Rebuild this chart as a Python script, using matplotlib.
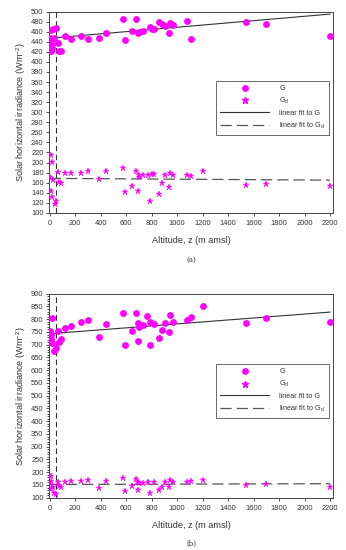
import numpy as np
import matplotlib
matplotlib.use("Agg")
import matplotlib.pyplot as plt
from matplotlib.lines import Line2D
from matplotlib.ticker import MultipleLocator

plt.rcParams['font.family'] = ['Liberation Sans', 'DejaVu Sans']
plt.rcParams['mathtext.fontset'] = 'custom'
plt.rcParams['mathtext.rm'] = 'Liberation Sans'
plt.rcParams['mathtext.it'] = 'Liberation Sans'

# ---------------- Data (a) ----------------
a_g_z = [0, 13, 25, 47, 13, 18, 21, 34, 65, 73, 92, 120, 170, 249, 301, 388, 445,
         573, 592, 649, 676, 689, 702, 728, 786, 801, 815, 854, 882, 903, 938,
         945, 964, 1074, 1105, 1537, 1700, 2200]
a_g = [447, 463, 465, 467, 421, 435, 427, 448, 438, 421, 422, 451, 445, 452, 446,
       447, 457, 485, 443, 461, 485, 457, 459, 461, 469, 466, 465, 479, 475, 472,
       458, 477, 473, 482, 446, 479, 475, 451]

a_gd_z = [5, 13, 18, 8, 18, 25, 39, 47, 65, 73, 92, 120, 170, 249, 301, 388, 445,
          573, 592, 649, 676, 689, 697, 700, 728, 770, 786, 801, 815, 854, 882,
          903, 938, 945, 964, 1074, 1105, 1202, 1537, 1700, 2200]
a_gd = [171, 214, 201, 143, 132, 165, 118, 123, 181, 162, 160, 180, 179, 180, 184,
        168, 184, 189, 142, 154, 184, 144, 176, 171, 176, 176, 124, 177, 178, 137,
        160, 175, 151, 180, 176, 175, 173, 184, 155, 157, 154]

# fitted lines: (intercept, slope per m)
a_fit_g = (447.0, 0.0218)
a_fit_gd = (168.5, -0.0016)

# ---------------- Data (b) ----------------
b_g_z = [0, 18, 8, 13, 21, 34, 45, 65, 73, 92, 120, 170, 249, 301, 388, 445, 573,
         592, 649, 676, 689, 694, 702, 728, 767, 788, 788, 815, 854, 882, 903, 938,
         945, 964, 1074, 1105, 1200, 1537, 1700, 2200]
b_g = [752, 804, 723, 739, 708, 676, 689, 752, 712, 722, 767, 774, 790, 795, 729,
       783, 824, 699, 752, 826, 715, 787, 771, 778, 811, 790, 698, 782, 725, 758,
       787, 748, 816, 791, 796, 807, 850, 787, 803, 788]

b_gd_z = [0, 13, 8, 13, 25, 34, 45, 65, 73, 92, 120, 170, 249, 301, 388, 445, 573,
          592, 649, 676, 689, 694, 702, 728, 770, 786, 815, 854, 882, 903, 938, 945,
          964, 1074, 1105, 1202, 1537, 1700, 2200]
b_gd = [157, 186, 133, 166, 141, 120, 113, 163, 146, 144, 163, 166, 167, 170, 140,
        167, 179, 126, 146, 175, 130, 163, 157, 159, 163, 120, 162, 130, 144, 162,
        141, 170, 161, 161, 165, 170, 149, 153, 144]

b_fit_g = (743.0, 0.0386)
b_fit_gd = (152.0, 0.0014)

panels = [
    dict(gz=a_g_z, g=a_g, dz=a_gd_z, d=a_gd, fg=a_fit_g, fd=a_fit_gd,
         ylim=(100, 500), major=20, minor=None,
         label="(a)", rect=[0.142, 0.613, 0.821, 0.366], leg_top=0.655),
    dict(gz=b_g_z, g=b_g, dz=b_gd_z, d=b_gd, fg=b_fit_g, fd=b_fit_gd,
         ylim=(100, 900), major=50, minor=10,
         label="(b)", rect=[0.142, 0.095, 0.821, 0.371], leg_top=0.655),
]

MAG = "#ff00ff"
DASH = (0, (9, 4))

fig = plt.figure(figsize=(3.46, 5.5), dpi=100)

for p in panels:
    ax = fig.add_axes(p["rect"])
    ax.plot(p["gz"], p["g"], "o", color=MAG, ms=3.9, mec=MAG, zorder=3)
    ax.plot(p["dz"], p["d"], "*", color=MAG, ms=4.8, mec=MAG, mew=0.3, zorder=3)

    # linear fits
    xx = np.array([0, 2200])
    ax.plot(xx, p["fg"][0] + p["fg"][1] * xx, color="#333333", lw=0.8, zorder=2)
    ax.plot(xx, p["fd"][0] + p["fd"][1] * xx, color="#555555", lw=0.9, ls=DASH,
            zorder=2)

    # 50 m marker
    ax.axvline(50, color="#333333", lw=0.8, ls=(0, (5, 3)), zorder=1)

    ax.set_xlim(-5, 2225)
    ax.set_ylim(*p["ylim"])
    ax.xaxis.set_major_locator(MultipleLocator(200))
    ax.yaxis.set_major_locator(MultipleLocator(p["major"]))
    if p["minor"]:
        ax.yaxis.set_minor_locator(MultipleLocator(p["minor"]))
    ax.tick_params(direction="out", length=2.5, width=0.6, labelsize=5.4, pad=1.5,
                   colors="#333333", labelcolor="#333333")
    ax.tick_params(which="minor", direction="out", length=1.5, width=0.5)
    ax.tick_params(axis="x", pad=3)
    for s in ax.spines.values():
        s.set_linewidth(0.7)
        s.set_color("#444444")

    ax.set_ylabel("Solar horizontal irradiance (Wm$^{-2}$)", fontsize=6.6,
                  color="#333333", labelpad=2)
    ax.set_xlabel("Altitude, z (m amsl)", fontsize=6.6, color="#333333", labelpad=6)
    ax.text(0.5, -0.245 if p["label"] == "(a)" else -0.235, p["label"],
            transform=ax.transAxes, ha="center", fontsize=5, color="#333333",
            family="serif")

    handles = [
        Line2D([], [], ls="none", marker="o", color=MAG, ms=3.9),
        Line2D([], [], ls="none", marker="*", color=MAG, ms=4.8),
        Line2D([], [], color="#333333", lw=0.8),
        Line2D([], [], color="#555555", lw=0.9, ls=DASH),
    ]
    labels = ["G", "G$_{\\rm d}$", "linear fit to G", "linear fit to G$_{\\rm d}$"]
    leg = ax.legend(handles, labels, loc="upper right",
                    bbox_to_anchor=(0.986, p["leg_top"]), fontsize=5.2,
                    frameon=True, fancybox=False, edgecolor="#444444",
                    handlelength=6.8, handletextpad=1.4, labelspacing=0.5,
                    borderpad=0.6, borderaxespad=0)
    leg.get_frame().set_linewidth(0.7)
    for t in leg.get_texts():
        t.set_color("#333333")

fig.savefig("out.png", dpi=100)
